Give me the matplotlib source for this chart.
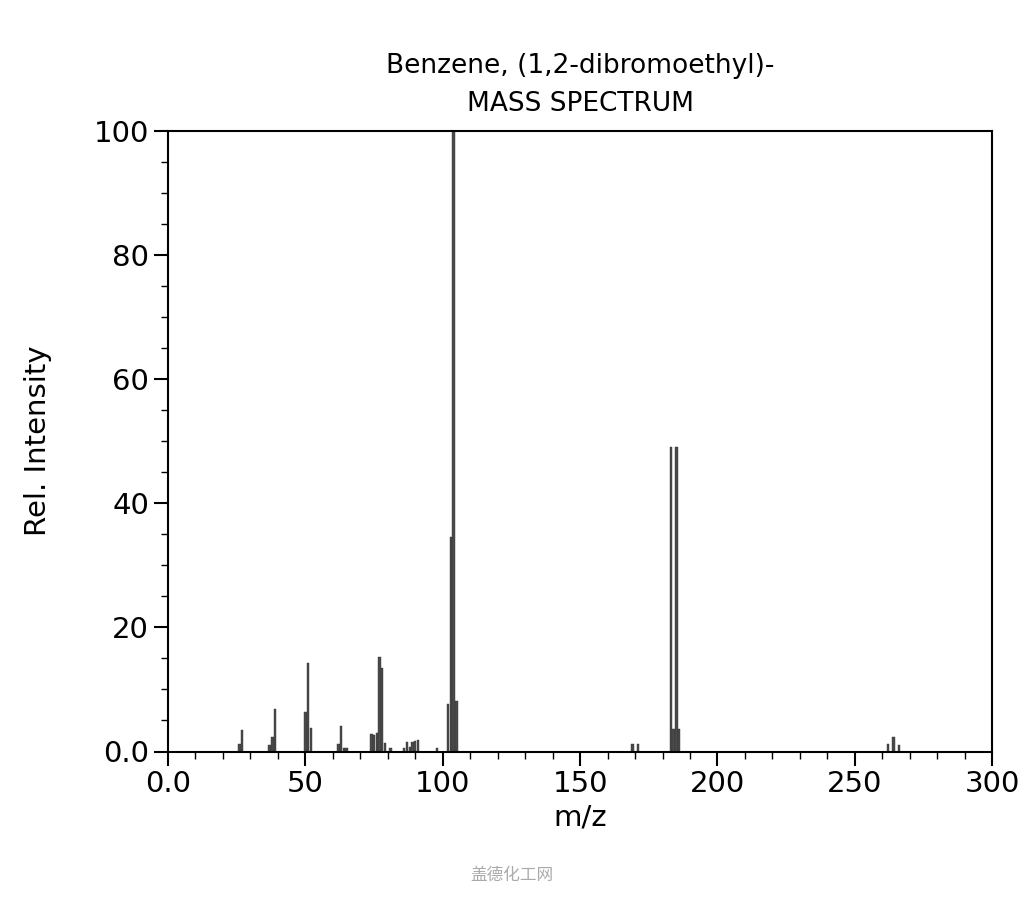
import matplotlib
matplotlib.use("Agg")
import matplotlib.pyplot as plt
from matplotlib.ticker import MultipleLocator

mz = [26,27,37,38,39,50,51,52,62,63,64,65,74,75,76,77,78,79,81,86,87,88,89,90,91,98,102,103,104,105,169,171,183,184,185,186,262,264,266]
inten = [1.2,3.5,1.0,2.3,6.8,6.3,14.3,3.8,1.2,4.1,0.6,0.5,2.8,2.6,3.0,15.2,13.5,1.3,0.5,0.5,1.6,0.8,1.5,1.7,1.9,0.5,7.7,34.6,100,8.1,1.2,1.2,49,3.7,49,3.7,1.2,2.3,1.1]

plt.rcParams['font.family'] = ['DejaVu Sans', 'Noto Sans CJK SC']
fig = plt.figure(figsize=(10.24, 9.0), dpi=100)
ax = fig.add_axes([0.164, 0.165, 0.805, 0.69])
ax.bar(mz, inten, width=0.9, color='#4a4a4a', edgecolor='#333333', linewidth=0.3)
ax.set_xlim(0, 300)
ax.set_ylim(0, 100)
ax.set_xticks([0, 50, 100, 150, 200, 250, 300])
ax.set_xticklabels(['0.0', '50', '100', '150', '200', '250', '300'])
ax.set_yticks([0, 20, 40, 60, 80, 100])
ax.set_yticklabels(['0.0', '20', '40', '60', '80', '100'])
ax.xaxis.set_minor_locator(MultipleLocator(10))
ax.yaxis.set_minor_locator(MultipleLocator(5))
ax.tick_params(which='major', length=10, width=1.5, labelsize=21)
ax.tick_params(which='minor', length=5, width=1)
for s in ax.spines.values():
    s.set_linewidth(1.5)
ax.set_xlabel('m/z', fontsize=21)
ax.set_ylabel('Rel. Intensity', fontsize=21, labelpad=30)
ax.set_title('Benzene, (1,2-dibromoethyl)-\nMASS SPECTRUM', fontsize=19, linespacing=1.6, pad=14)
fig.text(0.5, 0.022, '盖德化工网', ha='center', fontsize=12, color='#aaaaaa', family=['Noto Sans CJK SC'])
fig.savefig('out.png', dpi=100)
